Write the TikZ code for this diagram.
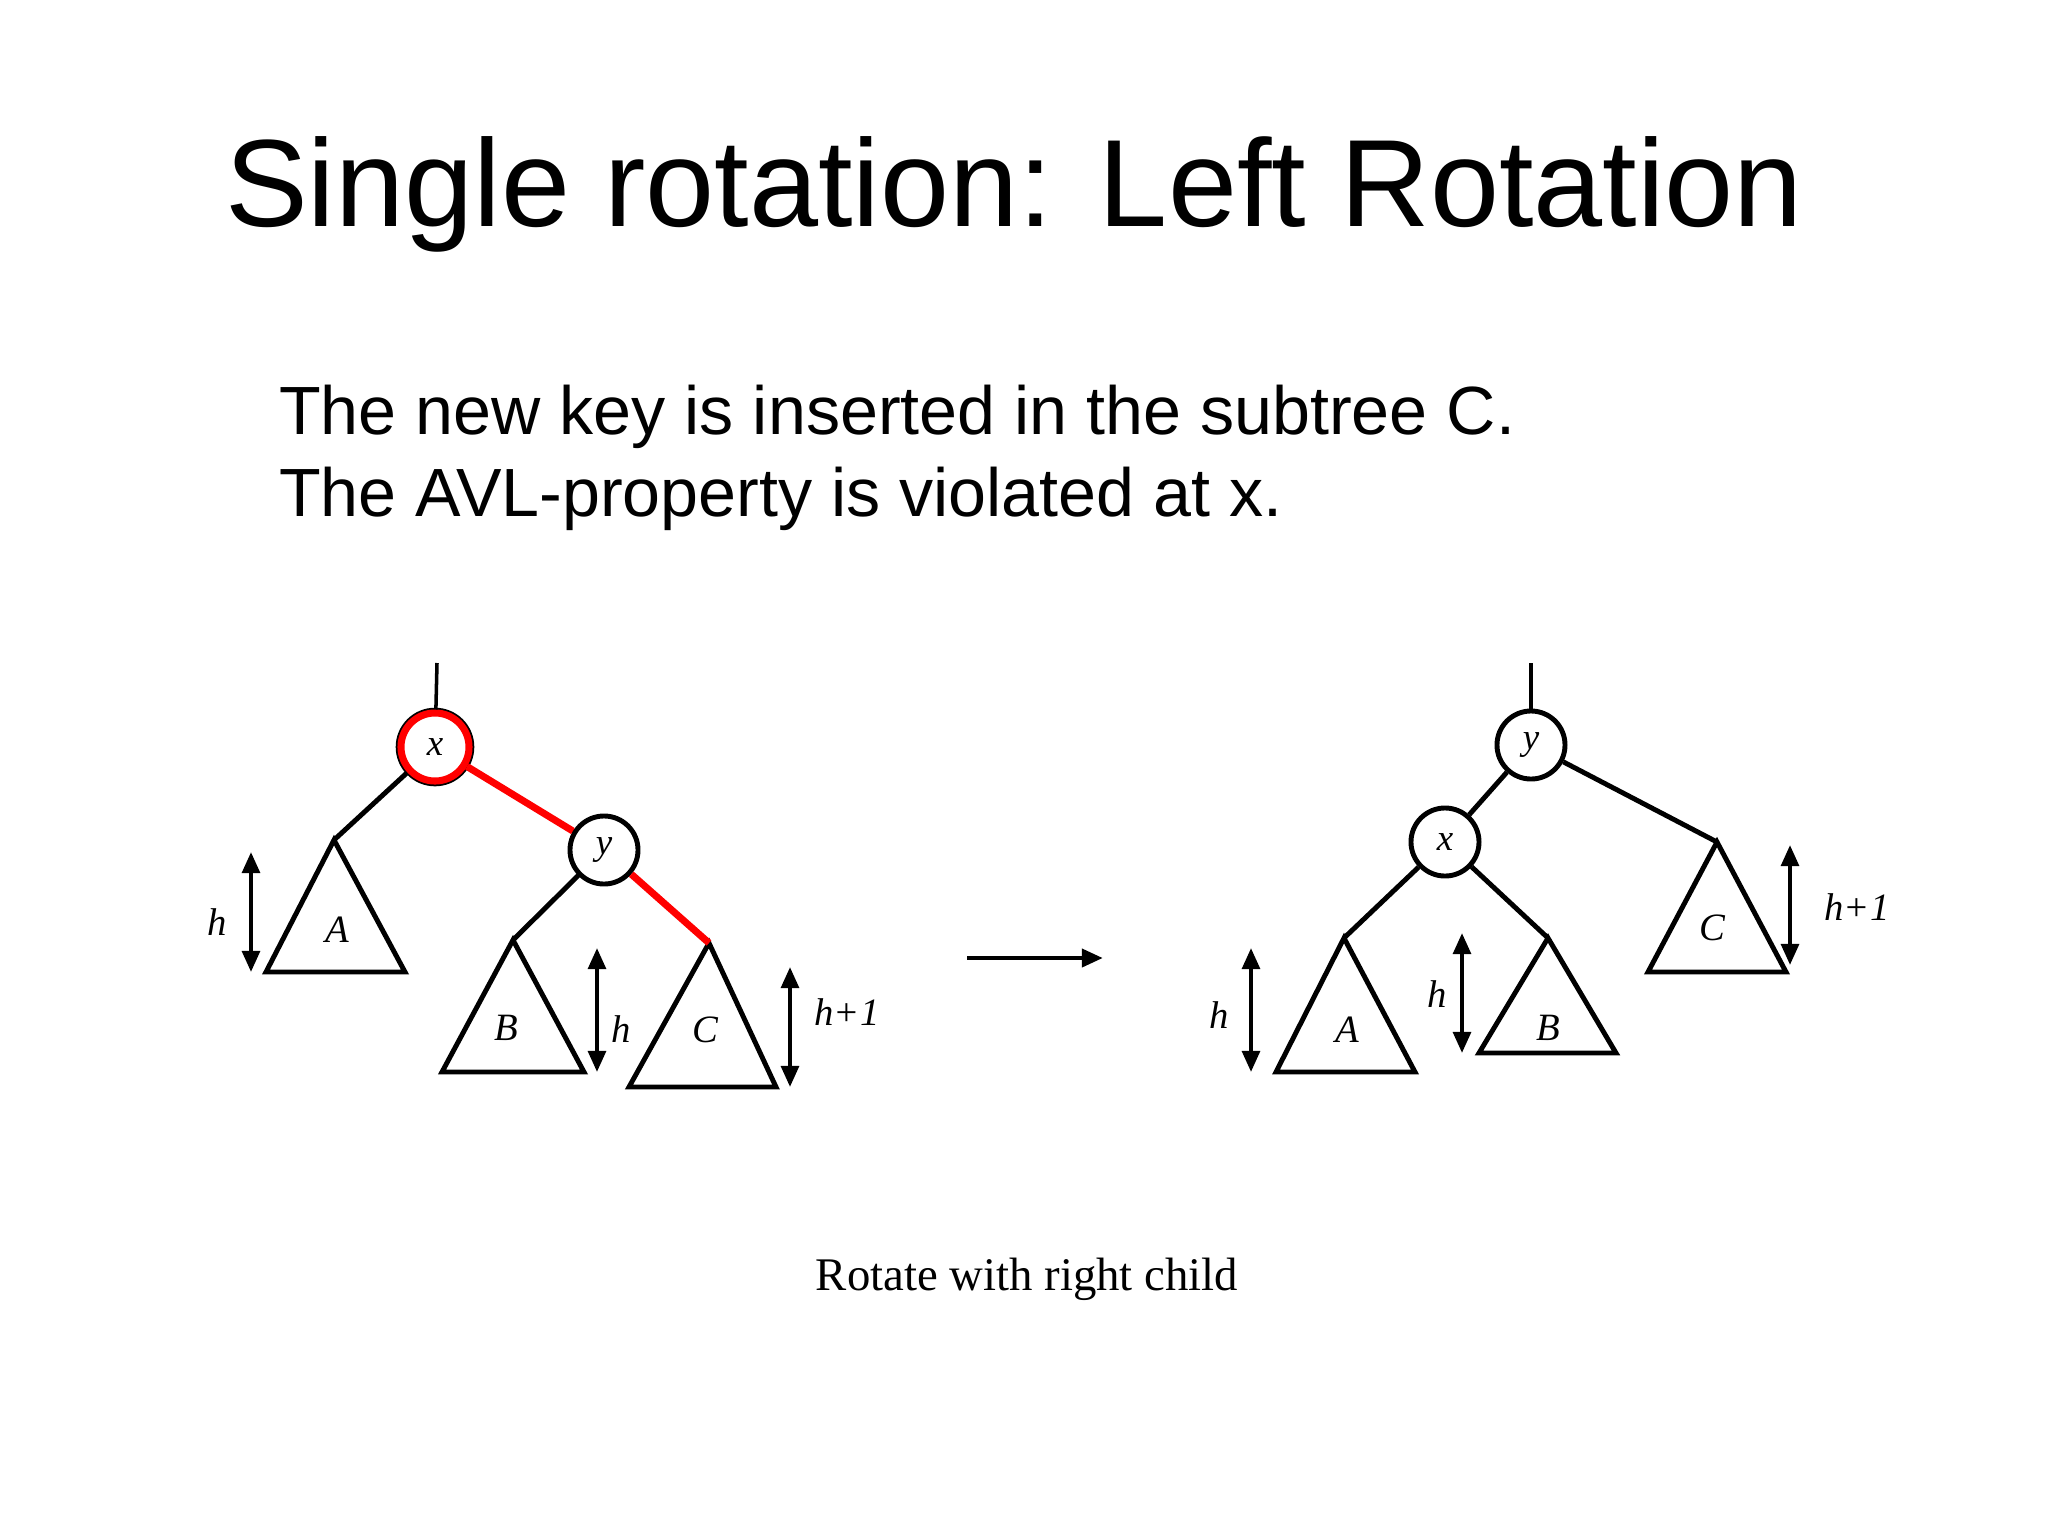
\documentclass[tikz,border=0pt]{standalone}
\usepackage{fontspec}
\setmainfont{Liberation Serif}
\newfontfamily\slidefont{Liberation Sans}
\usetikzlibrary{arrows.meta}

\begin{document}
\begin{tikzpicture}[x=0.01cm,y=-0.01cm,>={Triangle[length=6pt,width=5pt]},
	semithick]
	\tikzstyle{keynode}=[circle,draw,fill=white,line width=1.4pt,minimum size=0.68cm,inner sep=0pt,font=\fontsize{10.5}{12}\selectfont\itshape]
	\tikzstyle{link}=[line width=1.4pt]
	\tikzstyle{stub}=[line width=1pt]
	\tikzstyle{hot}=[draw=red,line width=2pt]
	\tikzstyle{tri}=[line width=1.4pt,line join=miter]
	\tikzstyle{lbl}=[font=\fontsize{11}{13}\selectfont\itshape,inner sep=0pt]
	\tikzstyle{hbar}=[<->,line width=1.2pt]
	\tikzstyle{slide}=[anchor=base west,inner sep=0pt]

	\useasboundingbox[fill=white] (0,0) rectangle (2048,1536);

	% texts
	\node[slide,font=\slidefont\fontsize{35.3}{40}\selectfont] (title) at (224,226) {Single rotation: Left Rotation};
	\node[slide,font=\slidefont\fontsize{19.4}{23}\selectfont] (line1) at (278,434) {The new key is inserted in the subtree C.};
	\node[slide,font=\slidefont\fontsize{19.4}{23}\selectfont] (line2) at (278,516) {The AVL-property is violated at x.};
	\node[anchor=base,inner sep=0pt,font=\fontsize{13.3}{15}\selectfont] (caption) at (1027,1290) {Rotate with right child};

	% before
	\coordinate (top1) at (437,663);
	\coordinate (A1) at (334,840);
	\coordinate (B1) at (513,940);
	\coordinate (C1) at (709,943);
	\draw[tri] (A1) -- (266,972) -- (405,972) -- cycle;
	\draw[tri] (B1) -- (442,1072) -- (584,1072) -- cycle;
	\draw[tri] (C1) -- (629,1087) -- (776,1087) -- cycle;
	\node[lbl] (lA1) at (337,930) {A};
	\node[lbl] (lB1) at (506,1028) {B};
	\node[lbl] (lC1) at (705,1030) {C};

	\draw[link] (604,850) -- (B1);
	\draw[link] (435,747) -- (A1);
	\draw[link] (435,747) -- (604,850);
	\node[keynode,draw=red,line width=2pt,preaction={draw=black,line width=3pt}] (x1) at (435,747) {x};
	\node[keynode] (y1) at (604,850) {y};
	\draw[stub] (top1) -- (x1);
	\draw[hot] (x1) -- (y1);
	\draw[hot] (y1) -- (C1);

	\draw[hbar] (251,852) -- (251,972);
	\draw[hbar] (597,948) -- (597,1072);
	\draw[hbar] (790,967) -- (790,1087);
	\node[lbl] (h1) at (217,922) {h};
	\node[lbl] (h2) at (621,1029) {h};
	\node[lbl] (h3) at (847,1012) {h+1};

	% rotation arrow
	\coordinate (go) at (967,958);
	\coordinate (come) at (1103,958);
	\draw[->,link] (go) -- (come);

	% after
	\coordinate (top2) at (1531,663);
	\coordinate (A2) at (1344,938);
	\coordinate (B2) at (1548,938);
	\coordinate (C2) at (1717,842);
	\draw[tri] (A2) -- (1276,1072) -- (1415,1072) -- cycle;
	\draw[tri] (B2) -- (1479,1053) -- (1616,1053) -- cycle;
	\draw[tri] (C2) -- (1648,972) -- (1786,972) -- cycle;
	\node[lbl] (lA2) at (1347,1030) {A};
	\node[lbl] (lB2) at (1548,1028) {B};
	\node[lbl] (lC2) at (1712,928) {C};

	\node[keynode] (y2) at (1531,745) {y};
	\node[keynode] (x2) at (1445,842) {x};
	\draw[stub] (top2) -- (y2);
	\draw[link] (y2) -- (x2);
	\draw[link] (y2) -- (C2);
	\draw[link] (x2) -- (A2);
	\draw[link] (x2) -- (B2);

	\draw[hbar] (1251,948) -- (1251,1072);
	\draw[hbar] (1462,933) -- (1462,1053);
	\draw[hbar] (1790,845) -- (1790,965);
	\node[lbl] (h4) at (1219,1015) {h};
	\node[lbl] (h5) at (1437,994) {h};
	\node[lbl] (h6) at (1857,907) {h+1};
\end{tikzpicture}
\end{document}
